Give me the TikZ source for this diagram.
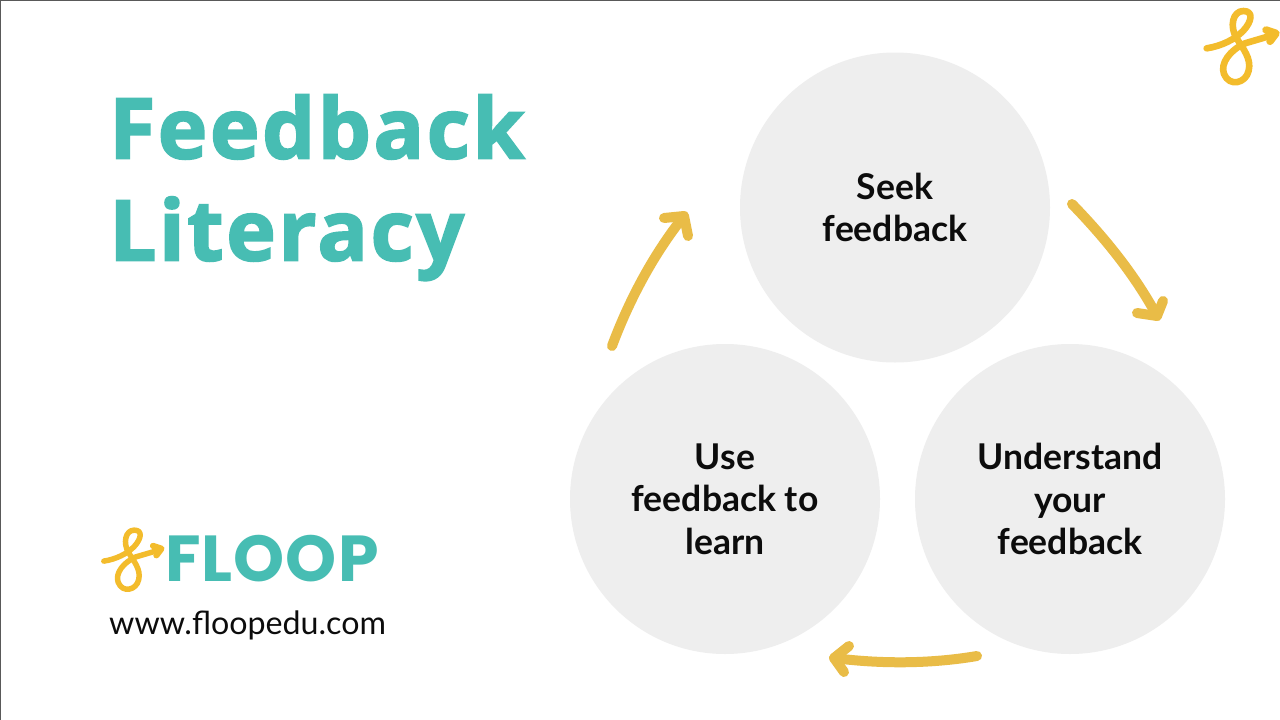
\documentclass[tikz,border=0pt]{standalone}
\usepackage{fontspec}
\setmainfont{Lato}
\newfontfamily\titlefont[BoldFeatures={FakeBold=2.2,LetterSpace=3.0,Kerning=Off}]{Open Sans}
\newfontfamily\logofont[BoldFeatures={LetterSpace=1.6}]{Poppins}
\definecolor{teal1}{HTML}{47BDB3}
\definecolor{gold1}{HTML}{F3BC2C}
\definecolor{gold2}{HTML}{E9BC47}
\definecolor{disc}{HTML}{EEEEEE}
\definecolor{ink}{HTML}{0C0C0C}
\tikzset{
  x=1pt,y=-1pt,
  disc/.style={circle,fill=disc,draw=none,minimum size=310pt,inner sep=0pt,align=center,text=ink,
    font=\fontsize{35.5}{42.5}\selectfont\bfseries},
  titletext/.style={anchor=base west,inner sep=0pt,text=teal1,font=\titlefont\fontsize{84}{84}\selectfont\bfseries},
  swoosh/.style={draw=gold2,line width=10pt,line cap=round,line join=round},
  pics/floopmark/.style={code={
    \begin{scope}[x=#1*0.3333pt,y=-#1*0.3333pt]
      \draw[draw=gold1,line width=#1*6.6pt,line cap=round,line join=round]
        (50,145) .. controls (95,138) and (135,118) .. (160,92)
        .. controls (185,65) and (192,33) .. (160,33)
        .. controls (128,33) and (118,80) .. (140,115)
        .. controls (158,145) and (185,175) .. (176,212)
        .. controls (168,250) and (118,262) .. (102,222)
        .. controls (90,190) and (120,150) .. (165,130)
        -- (250,105);
      \draw[draw=gold1,line width=#1*7.5pt,line cap=round,line join=round]
        (228,90) -- (258,100) -- (240,124);
    \end{scope}
  }}
}
\begin{document}
\begin{tikzpicture}
\useasboundingbox (0,0) rectangle (1280,720);
\fill[white] (0,0) rectangle (1280,720);
\draw[draw=black!65,line width=1.5pt] (0,0) -- (1280,0);
\draw[draw=black!65,line width=1.5pt] (0,0) -- (0,720);
\draw[draw=black!12,line width=1pt] (1280,0) -- (1280,720);

\node[titletext] (title1) at (109,158.5) {Feedback};
\node[titletext] (title2) at (109,260.5) {Literacy};

\node[disc] (seek) at (895,207.5) {Seek\\feedback};
\node[disc] (use) at (725,499) {Use\\feedback to\\learn};
\node[disc] (understand) at (1070,499) {Understand\\your\\feedback};

% curved arrows
\coordinate (a1s) at (1072,204);
\coordinate (a1t) at (1157,316);
\coordinate (a1l) at (1137,313);
\coordinate (a1r) at (1163,301);
\draw[swoosh] (a1s) .. controls (1105,238) and (1135,275) .. (a1t);
\draw[swoosh] (a1l) -- (a1t) -- (a1r);

\coordinate (a2s) at (977,656);
\coordinate (a2t) at (834,658);
\coordinate (a2l) at (849,646);
\coordinate (a2r) at (844,672);
\draw[swoosh] (a2s) .. controls (930,664) and (880,664) .. (a2t);
\draw[swoosh] (a2l) -- (a2t) -- (a2r);

\coordinate (a3s) at (612,346);
\coordinate (a3t) at (684,216);
\coordinate (a3l) at (664,218);
\coordinate (a3r) at (688,236);
\draw[swoosh] (a3s) .. controls (628,303) and (652,256) .. (a3t);
\draw[swoosh] (a3l) -- (a3t) -- (a3r);

% logos
\pic at (1190,0) {floopmark=1};
\pic at (90,521) {floopmark=0.83};
\node[anchor=base west,inner sep=0pt,text=teal1,font=\logofont\fontsize{65}{65}\selectfont\bfseries] (floop) at (165,581) {FLOOP};
\node[anchor=base west,inner sep=0pt,text=ink,font=\fontsize{32.2}{36}\selectfont] (url) at (109,634) {www.floopedu.com};
\end{tikzpicture}
\end{document}
